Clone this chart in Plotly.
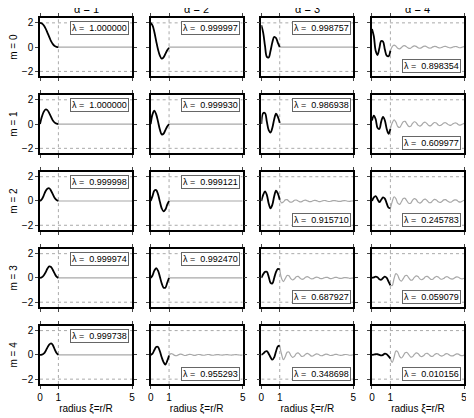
import numpy as np
import plotly.graph_objects as go
from plotly.subplots import make_subplots

alphas = [1, 2, 3, 4]
ms = [0, 1, 2, 3, 4]
x_in = [0.0, 0.1, 0.2, 0.3, 0.4, 0.5, 0.6, 0.7, 0.8, 0.9, 1.0]

# inside curves [m][alpha]
inside = [
    [[2.0,1.95,1.8,1.55,1.2,0.85,0.5,0.25,0.1,0.03,0.0],
     [2.0,1.8,1.25,0.5,-0.2,-0.7,-0.95,-0.85,-0.55,-0.25,-0.05],
     [1.8,1.2,0.1,-0.8,-0.85,-0.3,0.4,0.85,0.75,0.35,0.0],
     [1.5,0.9,-0.3,-0.65,-0.1,0.5,0.45,-0.2,-0.7,-0.75,-0.3]],
    [[0,0.6,1.0,1.2,1.15,0.9,0.6,0.3,0.12,0.03,0],
     [0,0.8,1.1,0.8,0.2,-0.45,-0.85,-0.8,-0.5,-0.2,0],
     [0,0.9,0.9,0.2,-0.5,-0.7,-0.3,0.4,0.85,0.6,0.1],
     [0.3,0.7,0.4,-0.3,-0.4,0.2,0.6,0.3,-0.4,-0.8,-0.4]],
    [[0,0.15,0.45,0.8,1.0,1.05,0.85,0.55,0.25,0.08,0],
     [0,0.4,0.85,0.9,0.55,-0.05,-0.6,-0.85,-0.7,-0.3,0],
     [0,0.5,0.8,0.5,-0.2,-0.6,-0.3,0.4,0.85,0.6,0.1],
     [0,0.3,0.4,0.15,-0.1,0.1,0.3,0.2,-0.2,-0.55,-0.6]],
    [[0,0.05,0.2,0.45,0.75,0.95,0.9,0.65,0.35,0.1,0],
     [0,0.2,0.6,0.8,0.6,0.1,-0.45,-0.8,-0.8,-0.4,0],
     [0,0.3,0.5,0.5,0.1,-0.4,-0.45,0.0,0.5,0.75,0.7],
     [0,0.05,0.1,0.05,-0.1,-0.15,0.0,0.1,0.0,-0.3,-0.6]],
    [[0,0.02,0.1,0.3,0.6,0.85,0.95,0.8,0.45,0.15,0],
     [0,0.1,0.4,0.65,0.65,0.3,-0.2,-0.6,-0.8,-0.5,-0.05],
     [0,0.1,0.25,0.3,0.1,-0.2,-0.4,-0.2,0.3,0.7,0.75],
     [0,0.02,0.05,0.05,0.0,-0.05,0.0,0.1,0.05,-0.1,-0.3]],
]

zero_tail = [0.0, 0.0]
tail_a4_m0 = [-0.30,0.05,0.17,0.08,-0.10,-0.14,-0.03,0.10,0.11,0.0,-0.10,-0.09,0.03,0.10,0.06,-0.05,-0.09,-0.04,0.06,0.08,0.01,-0.07,-0.07,0.02,0.07,0.04,-0.04,-0.07,-0.02,0.05,0.06,0.0,-0.05,-0.05,0.01,0.05,0.04,-0.03,-0.05,-0.01,0.04]
tail_a4_m1 = [-0.40,0.10,0.34,0.16,-0.20,-0.28,-0.06,0.20,0.22,0.0,-0.19,-0.18,0.05,0.19,0.12,-0.09,-0.17,-0.08,0.11,0.15,0.02,-0.13,-0.13,0.03,0.13,0.08,-0.07,-0.12,-0.04,0.09,0.11,0.0,-0.09,-0.09,0.02,0.09,0.07,-0.05,-0.09,-0.02,0.07]
tail_a4_m2 = [-0.60,-0.05,0.35,0.20,-0.18,-0.28,-0.06,0.20,0.22,0.0,-0.19,-0.18,0.05,0.19,0.12,-0.09,-0.17,-0.08,0.11,0.15,0.02,-0.13,-0.13,0.03,0.13,0.08,-0.07,-0.12,-0.04,0.09,0.11,0.0,-0.09,-0.09,0.02,0.09,0.07,-0.05,-0.09,-0.02,0.07]
tail_a4_m3 = [-0.60,-0.62,-0.05,0.35,0.22,-0.15,-0.26,-0.06,0.18,0.20,0.0,-0.18,-0.16,0.04,0.17,0.11,-0.08,-0.15,-0.07,0.10,0.13,0.02,-0.12,-0.11,0.03,0.12,0.07,-0.06,-0.11,-0.04,0.08,0.10,0.0,-0.08,-0.08,0.02,0.08,0.06,-0.05,-0.08,-0.02]
tail_a4_m4 = [-0.30,-0.62,-0.20,0.32,0.25,-0.12,-0.26,-0.08,0.17,0.20,0.02,-0.17,-0.16,0.03,0.16,0.11,-0.07,-0.15,-0.07,0.09,0.13,0.02,-0.11,-0.11,0.02,0.11,0.07,-0.06,-0.10,-0.04,0.08,0.09,0.0,-0.08,-0.08,0.01,0.08,0.06,-0.04,-0.07,-0.02]
tail_a3_m2 = [0.10,-0.15,-0.08,0.09,0.11,-0.02,-0.10,-0.06,0.06,0.08,0.0,-0.07,-0.05,0.04,0.07,0.02,-0.05,-0.05,0.02,0.05,0.03,-0.04,-0.05,0.0,0.04,0.03,-0.02,-0.04,-0.01,0.03,0.03,0.0,-0.03,-0.03,0.01,0.03,0.02,-0.02,-0.03,0.0,0.02]
tail_a3_m3 = [0.70,-0.05,-0.30,-0.05,0.20,0.18,-0.06,-0.17,-0.08,0.10,0.13,0.0,-0.11,-0.08,0.05,0.10,0.03,-0.07,-0.07,0.02,0.07,0.04,-0.05,-0.06,0.0,0.05,0.04,-0.03,-0.05,-0.01,0.04,0.04,-0.01,-0.04,-0.02,0.02,0.03,0.01,-0.03,-0.02,0.01]
tail_a3_m4 = [0.75,0.05,-0.40,-0.15,0.22,0.24,-0.04,-0.20,-0.12,0.10,0.16,0.02,-0.13,-0.10,0.05,0.12,0.05,-0.08,-0.09,0.01,0.08,0.05,-0.05,-0.07,0.0,0.06,0.04,-0.03,-0.05,-0.02,0.04,0.04,-0.01,-0.04,-0.03,0.02,0.03,0.01,-0.03,-0.02,0.01]
tail_a2_m4 = [-0.05,0.10,0.06,-0.04,-0.07,0.0,0.06,0.04,-0.03,-0.05,0.0,0.04,0.03,-0.02,-0.04,0.0,0.03,0.02,-0.02,-0.03,0.0,0.03,0.02,-0.02,-0.03,0.0,0.02,0.02,-0.01,-0.02,0.0,0.02,0.01,-0.01,-0.02,0.0,0.02,0.01,-0.01,-0.02,0.0]

tails = [
    [zero_tail, zero_tail, zero_tail, tail_a4_m0],
    [zero_tail, zero_tail, zero_tail, tail_a4_m1],
    [zero_tail, zero_tail, tail_a3_m2, tail_a4_m2],
    [zero_tail, zero_tail, tail_a3_m3, tail_a4_m3],
    [zero_tail, tail_a2_m4, tail_a3_m4, tail_a4_m4],
]

lambdas = [
    ["1.000000", "0.999997", "0.998757", "0.898354"],
    ["1.000000", "0.999930", "0.986938", "0.609977"],
    ["0.999998", "0.999121", "0.915710", "0.245783"],
    ["0.999974", "0.992470", "0.687927", "0.059079"],
    ["0.999738", "0.955293", "0.348698", "0.010156"],
]
label_bottom = [
    [False, False, False, True],
    [False, False, False, True],
    [False, False, True, True],
    [False, False, True, True],
    [False, True, True, True],
]

fig = make_subplots(rows=5, cols=4, horizontal_spacing=0.044, vertical_spacing=0.051)
FONT = "Liberation Sans, Arial, sans-serif"

for i, m in enumerate(ms):
    for j, a in enumerate(alphas):
        r, c = i + 1, j + 1
        ty = tails[i][j]
        tx = np.linspace(1, 5, len(ty))
        fig.add_trace(go.Scatter(x=tx, y=ty, mode="lines", line=dict(color="#a8a8a8", width=1.2, shape="spline"),
                                 showlegend=False, hoverinfo="skip"), row=r, col=c)
        fig.add_trace(go.Scatter(x=x_in, y=inside[i][j], mode="lines", line=dict(color="black", width=1.8, shape="spline"),
                                 showlegend=False, hoverinfo="skip"), row=r, col=c)
        n = (i * 4 + j + 1)
        xs = "x" if n == 1 else f"x{n}"
        ys = "y" if n == 1 else f"y{n}"
        for yv in (-2, 2):
            fig.add_shape(type="line", xref=xs, yref=ys, x0=0, x1=5, y0=yv, y1=yv,
                          line=dict(color="#aaa", width=1, dash="dot"), layer="below")
        fig.add_shape(type="line", xref=xs, yref=ys, x0=1, x1=1, y0=-2.4, y1=2.4,
                      line=dict(color="#aaa", width=1, dash="dot"), layer="below")
        bottom = label_bottom[i][j]
        fig.add_annotation(xref=f"{xs} domain", yref=f"{ys} domain", x=0.97,
                           y=0.06 if bottom else 0.94, xanchor="right",
                           yanchor="bottom" if bottom else "top",
                           text="λ =  " + lambdas[i][j], showarrow=False,
                           font=dict(size=9, family=FONT, color="black"),
                           bordercolor="#666", borderwidth=1, borderpad=1, bgcolor="white")
        fig.update_xaxes(range=[0, 5], tickvals=[0, 1, 5], showticklabels=(i == 4), ticks="outside",
                         ticklen=3, showgrid=False, zeroline=False, showline=True, mirror="ticks",
                         linecolor="black", linewidth=1.5, tickfont=dict(size=10),
                         title=dict(text="radius ξ=r/R", font=dict(size=10), standoff=3) if i == 4 else None,
                         row=r, col=c)
        fig.update_yaxes(range=[-2.4, 2.4], tickvals=[-2, 0, 2], showticklabels=(j == 0), ticks="outside",
                         ticklen=3, showgrid=False, zeroline=False, showline=True, mirror="ticks",
                         linecolor="black", linewidth=1.5, tickfont=dict(size=10),
                         title=dict(text=f"m = {m}", font=dict(size=10), standoff=2) if j == 0 else None,
                         row=r, col=c)

for j, a in enumerate(alphas):
    n = j + 1
    xs = "x" if n == 1 else f"x{n}"
    fig.add_annotation(xref=f"{xs} domain", yref="paper", x=0.5, y=1.0, yanchor="bottom", yshift=1,
                       text=f"α = {a}", showarrow=False, font=dict(size=11, family=FONT, color="black"))

# page body has an 8px margin, so the figure is sized to fit inside the window
fig.update_layout(width=466, height=410, margin=dict(l=25, r=5, t=9, b=30),
                  paper_bgcolor="white", plot_bgcolor="white",
                  font=dict(family=FONT, size=10, color="black"))
fig.write_html("out.html")
